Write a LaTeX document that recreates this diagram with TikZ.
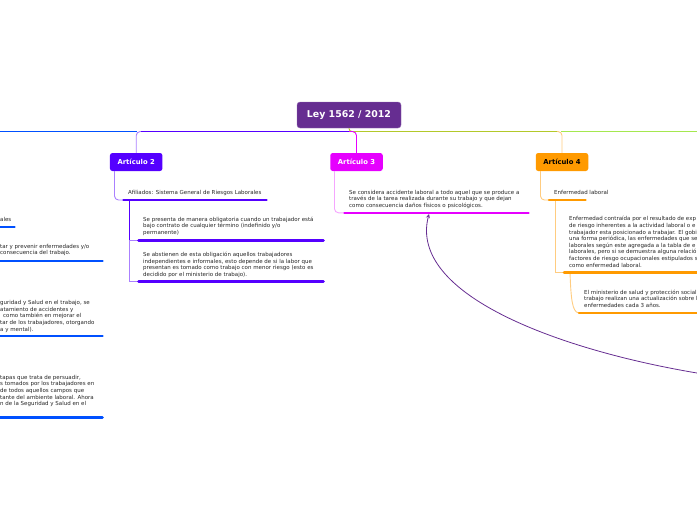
\documentclass[tikz,border=0pt]{standalone}
\usepackage{fontspec}
\setmainfont{DejaVu Sans}
\definecolor{rootc}{HTML}{662D91}
\definecolor{bluec}{HTML}{0050FF}
\definecolor{purpc}{HTML}{5500FF}
\definecolor{lpurp}{HTML}{AA80FF}
\definecolor{magc}{HTML}{E600FF}
\definecolor{lmag}{HTML}{F5A6FF}
\definecolor{orac}{HTML}{FF9A00}
\definecolor{lora}{HTML}{FFCC80}
\definecolor{oliv}{HTML}{B3C92A}
\definecolor{grnc}{HTML}{A5E84F}
\tikzset{x=1pt,y=-1pt,
  root/.style={draw=rootc!70!white,fill=rootc,rounded corners=3pt,minimum width=104pt,minimum height=26pt,text=white,font=\bfseries\fontsize{9.4}{11}\selectfont},
  art/.style={rounded corners=2.5pt,minimum width=52.5pt,minimum height=18pt,inner sep=0pt,text=white,font=\bfseries\fontsize{6.8}{8}\selectfont},
  txt/.style={anchor=north west,inner sep=0pt,align=left,text=black!85,font=\fontsize{5.5}{6.6}\selectfont},
  under/.style={line width=2.6pt,line cap=round},
  link/.style={line width=.9pt,rounded corners=4pt}
}
\begin{document}
\begin{tikzpicture}
\useasboundingbox (0,0) rectangle (697,520);
% nodes of the first level
\node [root] (ley) at (349,115) {Ley 1562 / 2012};
\node [art,fill=purpc] (art2) at (136.2,162) {Artículo 2};
\node [art,fill=magc] (art3) at (356.5,162) {Artículo 3};
\node [art,fill=orac,text=black] (art4) at (562,162) {Artículo 4};
\coordinate (hub) at (349,131.5);
\coordinate (west) at (0,131.5);
\coordinate (east) at (697,131.5);
\draw [line width=.9pt,grnc] (561,131.5) -- (east);
\draw [line width=.9pt,bluec] (west) -- (137,131.5);
\draw [link,lpurp] (art2.north) -- (136.2,131.5) -- (hub);
\draw [line width=.9pt,purpc] (141,131.5) -- (hub);
\draw [link,lora] (art4.north) |- (hub);
\draw [line width=.9pt,oliv,rounded corners=3pt] (557,131.5) -- (hub) -- (ley.south);
\draw [link,magc] (art3.north) |- (hub);
% article 2
\node [txt] (afi) at (128,190) {Afiliados: Sistema General de Riesgos Laborales};
\node [txt] (obl) at (143,216.5) {Se presenta de manera obligatoria cuando un trabajador está\\bajo contrato de cualquier término (indefinido y/o\\permanente)};
\node [txt] (abs) at (143,252) {Se abstienen de esta obligación aquellos trabajadores\\independientes e informales, esto depende de si la labor que\\presentan es tomado como trabajo con menor riesgo (esto es\\decidido por el ministerio de trabajo).};
\coordinate (afil) at (123.5,200);
\coordinate (oble) at (138.5,240.5);
\coordinate (abse) at (138.5,281.5);
\draw [link,lpurp] (114.5,171) -- (114.5,200) -- (afil);
\draw [line width=.9pt,lpurp] (129.5,200) |- (abse);
\draw [line width=.9pt,lpurp] (129.5,240.5) -- (oble);
\draw [line width=.9pt,purpc] (129.5,200) -- (129.5,240);
\draw [under,purpc] (afil) -- (266.5,200);
\draw [under,purpc] (oble) -- (323.5,240.5);
\draw [under,purpc] (abse) -- (323.5,281.5);
% article 3
\node [txt] (acc) at (349,190) {Se considera accidente laboral a todo aquel que se produce a\\través de la tarea realizada durante su trabajo y que dejan\\como consecuencia daños físicos o psicológicos.};
\coordinate (acce) at (344.5,212.8);
\draw [link,lmag] (334.5,171) -- (334.5,212.8) -- (acce);
\draw [under,magc] (acce) -- (528.5,212.8);
\draw [-stealth,line width=.8pt,rootc] (697,373) .. controls (560,350) and (408,295) .. (429,214);
% article 4
\node [txt] (enf) at (554,190) {Enfermedad laboral};
\node [txt] (con) at (569,216.3) {Enfermedad contraída por el resultado de exp\\de riesgo inherentes a la actividad laboral o e\\trabajador esta posicionado a trabajar. El gobi\\una forma periódica, las enfermedades que se\\laborales según este agregada a la tabla de e\\laborales, pero si se demuestra alguna relació\\factores de riesgo ocupacionales estipulados s\\como enfermedad laboral.};
\node [txt] (min) at (584,289.7) {El ministerio de salud y protección social\\trabajo realizan una actualización sobre l\\enfermedades cada 3 años.};
\coordinate (enfe) at (549,200);
\coordinate (cone) at (564,272.7);
\coordinate (mine) at (579,312.8);
\draw [link,lora] (540.5,171) -- (540.5,200) -- (enfe);
\draw [line width=.9pt,lora] (555.5,200) |- (cone);
\draw [line width=.9pt,lora] (570,272.7) .. controls (571,298) and (572,312.8) .. (mine);
\draw [under,orac] (enfe) -- (585.5,200);
\draw [under,orac] (cone) -- (700,272.7);
\draw [under,orac] (mine) -- (700,312.8);
% article 1, cut by the left edge
\node [txt] (lab) at (0,217) {ales};
\node [txt] (pre) at (0,243.7) {tar y prevenir enfermedades y/o\\consecuencia del trabajo.};
\node [txt] (seg) at (0,300.3) {guridad y Salud en el trabajo, se\\atamiento de accidentes y\\\hspace*{3pt}como también en mejorar el\\tar de los trabajadores, otorgando\\a y mental).};
\node [txt] (eta) at (0,375) {tapas que trata de persuadir,\\s tomados por los trabajadores en\\de todos aquellos campos que\\tante del ambiente laboral. Ahora\\n de la Seguridad y Salud en el};
\draw [under,bluec] (-3,227) -- (14.5,227);
\draw [under,bluec] (-3,261) -- (102.5,261);
\draw [under,bluec] (-3,336) -- (102.5,336);
\draw [under,bluec] (-3,417.7) -- (102.5,417.7);
\end{tikzpicture}
\end{document}
